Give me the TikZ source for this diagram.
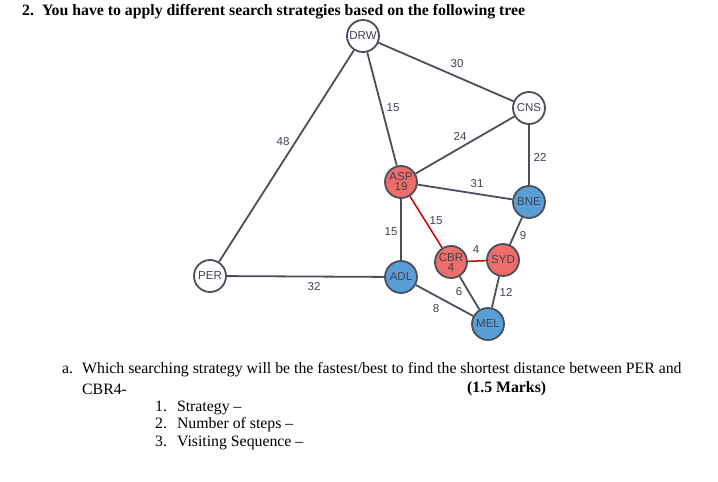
\documentclass[tikz,border=0pt]{standalone}
\usepackage{fontspec}
\setmainfont{Liberation Serif}
\newfontfamily\lsans{Liberation Sans}
\begin{document}
\begin{tikzpicture}[x=1pt,y=-1pt,
  city/.style={circle,draw=edgec,line width=1.8pt,minimum size=32pt,inner sep=0pt,font=\lsans\fontsize{11.5}{10}\selectfont,text=txtc,align=center},
  redc/.style={city,fill=nodered},
  bluec/.style={city,fill=nodeblue},
  whitec/.style={city,fill=white},
  edge/.style={draw=edgec,line width=1.8pt},
  wt/.style={font=\lsans\fontsize{11.5}{11}\selectfont,text=txtc,inner sep=1pt},
  body/.style={font=\fontsize{15.8}{17}\selectfont,anchor=west,inner sep=0pt}]
\definecolor{edgec}{HTML}{4A4F5C}
\definecolor{txtc}{HTML}{3E4350}
\definecolor{nodered}{HTML}{EE6D6A}
\definecolor{nodeblue}{HTML}{5A9ED6}
\useasboundingbox (0,0) rectangle (718,482);
\node[body,font=\bfseries\fontsize{15.8}{17}\selectfont] (t) at (22,12) {2.\hspace{8pt}You have to apply different search strategies based on the following tree};
\draw[edge] (363,36) -- (529,108);
\node[whitec] (DRW) at (363,36) {DRW};
\node[whitec] (CNS) at (529,108) {CNS};
\node[redc] (ASP) at (401,182) {ASP\\19};
\node[bluec] (BNE) at (529,202) {BNE};
\node[whitec] (PER) at (210,276) {PER};
\node[bluec] (ADL) at (401,277) {ADL};
\node[redc] (CBR) at (451,262) {CBR\\4};
\node[redc] (SYD) at (503,260) {SYD};
\node[bluec] (MEL) at (488,324) {MEL};
\draw[edge] (DRW) -- (ASP);
\draw[edge] (DRW) -- (PER);
\draw[edge] (CNS) -- (ASP);
\draw[edge] (CNS) -- (BNE);
\draw[edge] (ASP) -- (BNE);
\draw[edge] (ASP) -- (ADL);
\draw[draw=red!80!black,line width=1.5pt] (ASP) -- (CBR);
\draw[edge] (PER) -- (ADL);
\draw[edge] (ADL) -- (MEL);
\draw[draw=red!80!black,line width=1.5pt] (CBR) -- (SYD);
\draw[edge] (CBR) -- (MEL);
\draw[edge] (SYD) -- (MEL);
\draw[edge] (BNE) -- (SYD);
\node[wt] (w1) at (457,64) {30};
\node[wt] (w2) at (393,108) {15};
\node[wt] (w3) at (283,142) {48};
\node[wt] (w4) at (460,136) {24};
\node[wt] (w5) at (540,157) {22};
\node[wt] (w6) at (477,184) {31};
\node[wt] (w7) at (436,221) {15};
\node[wt] (w8) at (391,232) {15};
\node[wt] (w9) at (523,236) {9};
\node[wt] (w10) at (476,250) {4};
\node[wt] (w11) at (314,287) {32};
\node[wt] (w12) at (459,292) {6};
\node[wt] (w13) at (506,292) {12};
\node[wt] (w14) at (436,309) {8};
\node[body] (a) at (62,370) {a.};
\node[body,text width=624pt,align=justify] (q) at (82,370) {\parfillskip=0pt Which searching strategy will be the fastest/best to find the shortest distance between PER and};
\node[body] (q2) at (82,389) {CBR4-};
\node[body,font=\bfseries\fontsize{15.8}{17}\selectfont] (m) at (467,389) {(1.5 Marks)};
\node[body] (l1) at (155,408) {1.\hspace{10pt}Strategy --};
\node[body] (l2) at (155,425) {2.\hspace{10pt}Number of steps --};
\node[body] (l3) at (155,443) {3.\hspace{10pt}Visiting Sequence --};
\end{tikzpicture}
\end{document}
